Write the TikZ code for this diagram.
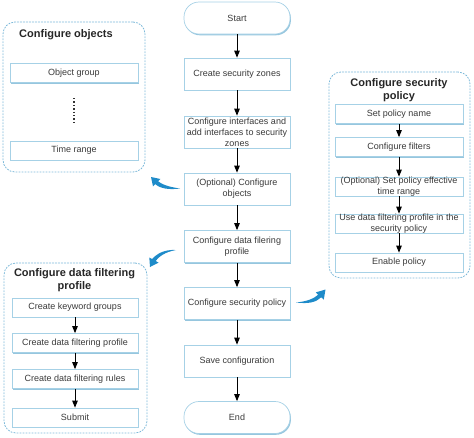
\documentclass[tikz,border=0pt]{standalone}
\usepackage{fontspec}
\setmainfont{Liberation Sans}
\usetikzlibrary{arrows.meta,shadows}
\definecolor{boxblue}{HTML}{A6D1E6}
\definecolor{shadowblue}{HTML}{96C6DE}
\definecolor{dashblue}{HTML}{7DB9D9}
\definecolor{txtgray}{HTML}{3A3A3A}
\definecolor{arrowblue}{HTML}{1E8BC9}
\tikzset{
  stepbox/.style={draw=boxblue, line width=0.7pt, fill=white, text=txtgray,
    align=center, font=\fontsize{9}{11}\selectfont, inner sep=0pt,
    drop shadow={shadow xshift=0.9pt, shadow yshift=-1.3pt, fill=shadowblue, opacity=1}},
  mainbox/.style={stepbox, minimum width=106pt, minimum height=32pt},
  termbox/.style={mainbox, rounded corners=15pt},
  subbox/.style={stepbox, minimum height=19pt, font=\fontsize{9}{10.5}\selectfont},
  groupbox/.style={draw=dashblue, line width=0.8pt, dash pattern=on 1.8pt off 1.2pt,
    rounded corners=12pt, fill=none, inner sep=0pt},
  grouptitle/.style={font=\fontsize{11}{13.5}\bfseries\selectfont, text=black!85, align=center, inner sep=0pt},
  flow/.style={-{Triangle[length=7pt,width=5.5pt]}, line width=0.9pt, black},
  bigarrow/.style={fill=arrowblue, draw=none},
}
\begin{document}
\begin{tikzpicture}[x=1pt,y=-1pt]
\useasboundingbox (0,0) rectangle (474,437);
% main column
\node[termbox] (start) at (237,18) {Start};
\node[mainbox] (zones) at (237,74) {Create security zones};
\node[mainbox] (ifaces) at (237,132) {Configure interfaces and\\add interfaces to security\\zones};
\node[mainbox] (objs) at (237,189) {(Optional) Configure\\objects};
\node[mainbox] (dfp) at (237,246.5) {Configure data filering\\profile};
\node[mainbox] (secpol) at (237,303.5) {Configure security policy};
\node[mainbox] (save) at (237,361) {Save configuration};
\node[termbox] (endn) at (237,417.5) {End};
\draw[flow] (start) -- (zones);
\draw[flow] (zones) -- (ifaces);
\draw[flow] (ifaces) -- (objs);
\draw[flow] (objs) -- (dfp);
\draw[flow] (dfp) -- (secpol);
\draw[flow] (secpol) -- (save);
\draw[flow] (save) -- (endn);
% group 1
\node[groupbox, minimum width=142pt, minimum height=150pt] (g1) at (74,97) {};
\node[grouptitle] (g1t) at (66,35) {Configure objects};
\node[subbox, minimum width=128pt] (ogrp) at (74,73) {Object group};
\coordinate (d1) at (74,98);
\coordinate (d2) at (74,122);
\draw[line width=1.4pt, dotted, black!80] (d1) -- (d2);
\node[subbox, minimum width=128pt] (trange) at (74,150.5) {Time range};
% group 2
\node[groupbox, minimum width=143pt, minimum height=170pt] (g2) at (75.5,348) {};
\node[grouptitle] (g2t) at (74.5,280) {Configure data filtering\\profile};
\node[subbox, minimum width=126pt] (kw) at (75,307.5) {Create keyword groups};
\node[subbox, minimum width=126pt] (cdfp) at (75,343) {Create data filtering profile};
\node[subbox, minimum width=126pt] (rules) at (75,379) {Create data filtering rules};
\node[subbox, minimum width=126pt] (submit) at (75,417.5) {Submit};
\draw[flow] (kw) -- (cdfp);
\draw[flow] (cdfp) -- (rules);
\draw[flow] (rules) -- (submit);
% group 3
\node[groupbox, minimum width=141pt, minimum height=206pt] (g3) at (399.5,175) {};
\node[grouptitle] (g3t) at (399,90) {Configure security\\policy};
\node[subbox, minimum width=128pt] (pname) at (399,114) {Set policy name};
\node[subbox, minimum width=128pt] (filters) at (399,147) {Configure filters};
\node[subbox, minimum width=128pt] (ptime) at (399,186.5) {(Optional) Set policy effective\\time range};
\node[subbox, minimum width=128pt] (usedfp) at (399,223.5) {Use data filtering profile in the\\security policy};
\node[subbox, minimum width=128pt] (enable) at (399,262.5) {Enable policy};
\draw[flow] (pname) -- (filters);
\draw[flow] (filters) -- (ptime);
\draw[flow] (ptime) -- (usedfp);
\draw[flow] (usedfp) -- (enable);
% blue curved (tapered) arrows
\coordinate (a1s) at (180,188.5);
\coordinate (a1e) at (151,177);
\fill[bigarrow] (a1s) .. controls (169,187) and (162,184.5) .. (158.1,181.3)
  -- (160.4,179.0) -- (a1e) -- (153.0,186.4) -- (155.3,184.1)
  .. controls (160,188.5) and (169,190) .. (a1s) -- cycle;
\coordinate (a2s) at (176,250);
\coordinate (a2e) at (150,267);
\fill[bigarrow] (a2s) .. controls (164,249.3) and (156.5,254) .. (152.2,259.0)
  -- (149.3,257.5) -- (a2e) -- (158.6,262.6) -- (155.6,261.0)
  .. controls (159,256.5) and (165,252) .. (a2s) -- cycle;
\coordinate (a3s) at (296,302.5);
\coordinate (a3e) at (325.5,289.5);
\fill[bigarrow] (a3s) .. controls (307,301.5) and (314,298.5) .. (318.2,294.7)
  -- (315.8,292.4) -- (a3e) -- (323.8,299.6) -- (321.2,297.3)
  .. controls (316,302.5) and (308,304) .. (a3s) -- cycle;
\end{tikzpicture}
\end{document}
